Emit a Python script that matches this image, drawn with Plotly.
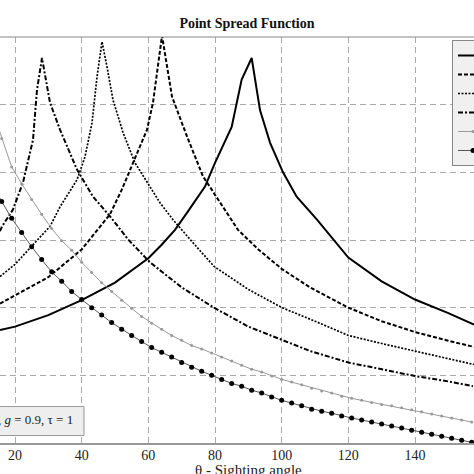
import plotly.graph_objects as go

# sighting angle samples (degrees) and PSF values
solid_x = [15.5, 20, 30, 40, 50, 60, 64, 68, 72, 77, 80, 85, 88, 91, 93.5, 96.5,
           100.4, 104.5, 110.6, 120, 130, 140, 150, 157.7]
solid_y = [1.67, 1.72, 1.89, 2.11, 2.37, 2.73, 2.93, 3.15, 3.43, 3.79, 4.14, 4.67, 5.37, 5.69, 4.92, 4.44,
           4.0, 3.64, 3.30, 2.74, 2.39, 2.12, 1.92, 1.75]

dashed_x = [15.5, 20, 30, 40, 44.6, 48.5, 52, 55.4, 59.6, 61.4, 64.1, 67.1, 71.6, 76.4, 81,
            86.9, 93, 100.1, 108.5, 120, 130, 140, 150, 157.7]
dashed_y = [2.06, 2.18, 2.45, 2.86, 3.15, 3.38, 3.74, 4.14, 4.63, 5.03, 6.02, 5.12, 4.53, 3.94, 3.60,
            3.15, 2.86, 2.57, 2.30, 2.0, 1.80, 1.64, 1.51, 1.42]

dotted_x = [15.5, 20, 26.9, 30.5, 33.5, 38.6, 41, 43.1, 44.6, 46.1, 47.6, 49.4, 52.4, 54.5, 56,
            63.5, 67.4, 72.5, 79.7, 90, 100.1, 110, 120, 130, 140, 150, 157.7]
dotted_y = [2.46, 2.64, 3.01, 3.20, 3.49, 3.89, 4.23, 4.73, 5.41, 5.93, 5.56, 5.07, 4.59, 4.33, 4.14,
            3.55, 3.30, 3.01, 2.61, 2.27, 2.0, 1.80, 1.59, 1.47, 1.36, 1.25, 1.16]

dashdot_x = [15.5, 16.1, 19.4, 22.4, 25.4, 26.6, 28.1, 30.5, 33.5, 38.6, 43.4, 48.5, 53.9, 60.5,
             70, 79.7, 90, 100.1, 108.5, 120, 130, 140, 150, 157.4]
dashdot_y = [3.13, 3.20, 3.45, 3.85, 4.48, 5.22, 5.69, 5.03, 4.63, 4.04, 3.64, 3.35, 3.01, 2.67,
             2.30, 2.0, 1.72, 1.52, 1.36, 1.19, 1.09, 0.99, 0.91, 0.84]

# marker series, one value every 3 degrees from 13 to 157
marker_x = [13, 16, 19, 22, 25, 28, 31, 34, 37, 40, 43, 46, 49, 52, 55, 58, 61, 64, 67, 70, 73, 76,
            79, 82, 85, 88, 91, 94, 97, 100, 103, 106, 109, 112, 115, 118, 121, 124, 127, 130,
            133, 136, 139, 142, 145, 148, 151, 154, 157]
grey_y = [4.95, 4.50, 4.08, 3.83, 3.60, 3.38, 3.17, 2.99, 2.85, 2.67, 2.52, 2.37, 2.24, 2.11, 1.99,
          1.87, 1.77, 1.68, 1.59, 1.52, 1.44, 1.39, 1.33, 1.27, 1.21, 1.15, 1.09, 1.05, 0.99, 0.94,
          0.90, 0.86, 0.81, 0.77, 0.74, 0.69, 0.66, 0.63, 0.60, 0.57, 0.55, 0.52, 0.49, 0.46, 0.43,
          0.40, 0.37, 0.34, 0.31]
dots_y = [3.85, 3.57, 3.32, 3.11, 2.90, 2.71, 2.53, 2.39, 2.24, 2.12, 2.00, 1.89, 1.78, 1.68, 1.59,
          1.50, 1.41, 1.34, 1.27, 1.19, 1.12, 1.06, 1.00, 0.94, 0.88, 0.84, 0.78, 0.74, 0.68, 0.63,
          0.59, 0.55, 0.50, 0.47, 0.44, 0.40, 0.37, 0.34, 0.31, 0.28, 0.25, 0.22, 0.19, 0.16, 0.13,
          0.10, 0.07, 0.04, 0.01]

names = ["θ0 = 90°", "θ0 = 64°", "θ0 = 46°", "θ0 = 28°", "θ0 = 10°", "θ0 = 0°"]

serif = "Liberation Serif"

fig = go.Figure()

fig.add_trace(go.Scatter(x=solid_x, y=solid_y, mode='lines', name=names[0],
                         line=dict(color='black', width=2)))
fig.add_trace(go.Scatter(x=dashed_x, y=dashed_y, mode='lines', name=names[1],
                         line=dict(color='black', width=2, dash='4px,2px')))
fig.add_trace(go.Scatter(x=dotted_x, y=dotted_y, mode='lines', name=names[2],
                         line=dict(color='black', width=1.7, dash='2px,1.5px')))
fig.add_trace(go.Scatter(x=dashdot_x, y=dashdot_y, mode='lines', name=names[3],
                         line=dict(color='black', width=2, dash='5px,2px,2px,2px')))
fig.add_trace(go.Scatter(x=marker_x, y=grey_y, mode='lines+markers', name=names[4],
                         line=dict(color='#999999', width=1),
                         marker=dict(color='#999999', size=3)))
fig.add_trace(go.Scatter(x=marker_x, y=dots_y, mode='lines+markers', name=names[5],
                         line=dict(color='#555555', width=1),
                         marker=dict(color='black', size=5)))

# parameter box, bottom left
fig.add_shape(type='rect', xref='paper', yref='paper', x0=-0.05, x1=84 / 474,
              y0=(443.5 - 436) / 406.5, y1=(443.5 - 407) / 406.5,
              fillcolor='#eeeeee', line=dict(color='#999999', width=1), layer='above')
fig.add_annotation(xref='paper', yref='paper', x=75 / 474, y=(443.5 - 420) / 406.5,
                   xanchor='right', yanchor='middle', showarrow=False,
                   text=", <i>g</i> = 0.9, τ = 1", font=dict(family=serif, size=13, color='#222'))

# x-axis title, placed by hand so it sits low like the original
fig.add_annotation(xref='paper', yref='paper', x=248 / 474, y=-(471 - 443.5) / 406.5,
                   xanchor='center', yanchor='middle', showarrow=False,
                   text="θ - Sighting angle", font=dict(family=serif, size=15, color='#222'))

# top frame line
fig.add_shape(type='line', xref='paper', yref='paper', x0=0, x1=1, y0=1, y1=1,
              line=dict(color='#888888', width=1))

fig.update_layout(
    width=474, height=474,
    margin=dict(l=0, r=0, t=37, b=30.5, autoexpand=False),
    paper_bgcolor='white', plot_bgcolor='white',
    title=dict(text="<b>Point Spread Function</b>", x=0.521, xanchor='center',
               y=1 - 23 / 474, yanchor='middle',
               font=dict(family=serif, size=14, color='#111')),
    font=dict(family=serif, size=14, color='#222'),
    xaxis=dict(range=[15.5, 157.7], tickvals=[20, 40, 60, 80, 100, 120, 140],
               showgrid=True, gridcolor='#aaaaaa', griddash='6px,4px', gridwidth=1,
               showline=True, linecolor='#999999', linewidth=2, zeroline=False,
               ticks='', ticklabelstandoff=-2,
               tickfont=dict(family=serif, size=14, color='#222')),
    yaxis=dict(range=[0, 6], tickvals=[1, 2, 3, 4, 5], showticklabels=False,
               showgrid=True, gridcolor='#aaaaaa', griddash='6px,4px', gridwidth=1,
               zeroline=False, showline=False, ticks=''),
    legend=dict(x=452 / 474, xanchor='left', y=1 - 3 / 406.5, yanchor='top',
                bgcolor='#f0f0f0', bordercolor='#888888', borderwidth=1,
                font=dict(family=serif, size=12, color='#222'), tracegroupgap=0),
    showlegend=True,
)

fig.write_html("out.html", config={'displayModeBar': False},
               post_script="document.body.style.margin = '0';")
